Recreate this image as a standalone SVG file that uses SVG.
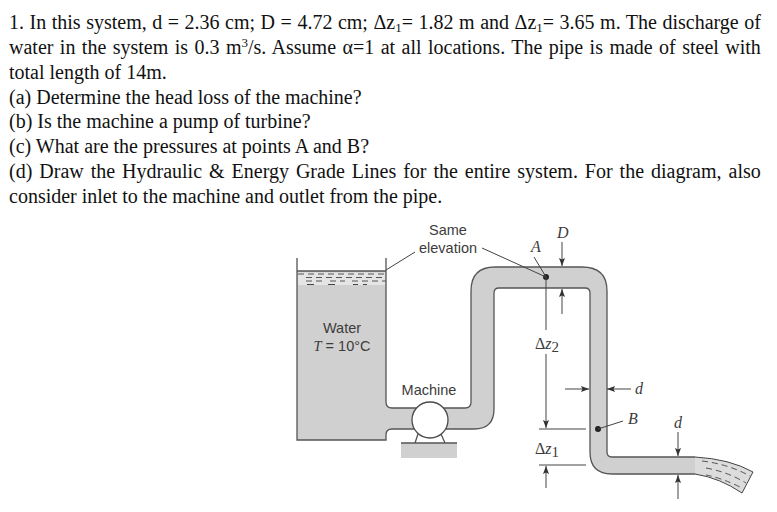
<svg xmlns="http://www.w3.org/2000/svg" width="777" height="512" viewBox="0 0 777 512">
<style>
.t{font-family:"Liberation Serif","Times New Roman",serif;font-size:20px;fill:#111}
.s{font-family:"Liberation Sans",Arial,sans-serif;font-size:14.5px;fill:#3c3c3c;text-anchor:middle}
.i{font-family:"Liberation Serif",serif;font-size:16px;font-style:italic;fill:#3c3c3c}
.z{font-family:"Liberation Serif",serif;font-size:16px;fill:#3c3c3c}
.w{fill:#d0d0d0}
.o{fill:none;stroke:#555;stroke-width:1.3}
.l{fill:none;stroke:#444;stroke-width:1}
.da{fill:none;stroke:#555;stroke-width:1;stroke-dasharray:6 4}
</style>
<defs>
<marker id="a" viewBox="0 0 8 6" refX="8" refY="3" markerWidth="8" markerHeight="6" orient="auto" markerUnits="userSpaceOnUse"><path d="M0 0L8 3L0 6L1.5 3z" fill="#333"/></marker>
</defs>
<g id="problem-text">
<text class="t" x="9" y="29" word-spacing="0.53">1. In this system, d = 2.36 cm; D = 4.72 cm; Δz<tspan font-size="13" dy="3">1</tspan><tspan dy="-3">= 1.82 m and Δz</tspan><tspan font-size="13" dy="3">1</tspan><tspan dy="-3">= 3.65 m. The discharge of</tspan></text>
<text class="t" x="9" y="54" word-spacing="1.43">water in the system is 0.3 m<tspan font-size="13" dy="-7">3</tspan><tspan dy="7">/s. Assume α=1 at all locations. The pipe is made of steel with</tspan></text>
<text class="t" x="9" y="79">total length of 14m.</text>
<text class="t" x="9" y="103.5">(a) Determine the head loss of the machine?</text>
<text class="t" x="9" y="128">(b) Is the machine a pump of turbine?</text>
<text class="t" x="9" y="153">(c) What are the pressures at points A and B?</text>
<text class="t" x="9" y="178" word-spacing="1.97">(d) Draw the Hydraulic &amp; Energy Grade Lines for the entire system. For the diagram, also</text>
<text class="t" x="9" y="203">consider inlet to the machine and outlet from the pipe.</text>
</g>
<g id="tank-and-pipe">
<path class="w" d="M297 271H386V402Q386 408 392 408H465Q471 408 471 402V291Q471 267 495 267H582Q607 267 607 291V452Q607 457 612 457H695V474H612Q590 474 590 452V293Q590 288 585 288H499Q494 288 494 293V409Q494 429 474 429H392Q386 429 386 435V440H297z"/>
<path class="o" d="M297 258V440H386V435Q386 429 392 429H474Q494 429 494 409V293Q494 288 499 288H585Q590 288 590 293V452Q590 474 612 474H695"/>
<path class="o" d="M386 258V402Q386 408 392 408H465Q471 408 471 402V291Q471 267 495 267H582Q607 267 607 291V452Q607 457 612 457H695"/>
<path d="M297 271H386" class="o"/>
<path fill="#fff" d="M298 272.5H385V285H298z" opacity=".45"/>
<path class="da" d="M298 274H386M306 277.5H386"/>
<path class="da" stroke-dasharray="5 3" d="M306 281H325M330 281H345M352 281H386"/>
<path class="l" d="M307 284.5H314M328 284.5H335M353 284.5H358M363 284.5H367"/>
</g>
<g id="jet">
<path d="M695 457Q730 459 753 472L742 493Q720 478 695 474z" fill="#dcdcdc"/>
<path class="l" stroke="#777" d="M695 457Q730 459 753 472L742 493Q720 478 695 474"/>
<path class="da" stroke-dasharray="5 4" d="M702 461Q728 464 750 476M706 468Q728 472 746 483M706 475Q722 478 742 488"/>
</g>
<g id="machine">
<rect class="w" x="401" y="443" width="56" height="15"/>
<path class="o" stroke-width="1.2" d="M401 443H457M418 434L415 443M441 434L445 443"/>
<circle cx="430" cy="420" r="18" fill="#fff" stroke="#4a4a4a" stroke-width="1.3"/>
<text class="s" x="429" y="395">Machine</text>
</g>
<g id="water-label">
<text class="s" x="342" y="333">Water</text>
<text class="s" x="342" y="351"><tspan font-family="Liberation Serif" font-style="italic">T</tspan> = 10°C</text>
</g>
<g id="same-elevation">
<text class="s" x="448" y="235">Same</text>
<text class="s" x="448" y="253">elevation</text>
</g>
<g id="point-a">
<circle cx="546" cy="277" r="3" fill="#222"/>
<text class="i" x="531" y="252">A</text>
</g>
<g id="point-b">
<circle cx="598" cy="429" r="3" fill="#222"/>
<text class="i" x="628" y="424">B</text>
</g>
<g id="labels">
<text class="i" x="557" y="238">D</text>
<text class="i" x="635" y="394">d</text>
<text class="i" x="674" y="428">d</text>
<text class="z" x="535" y="349">Δ<tspan font-style="italic">z</tspan><tspan font-size="15" dy="3">2</tspan></text>
<text class="z" x="535" y="454">Δ<tspan font-style="italic">z</tspan><tspan font-size="15" dy="3">1</tspan></text>
</g>
<g id="connectors">
<path class="l" d="M386 270L415 252M482 248L546 277M534 257L546 277M546 277V330M539 429H586M539 465H586M598 429L623 421"/>
<path class="l" marker-end="url(#a)" d="M546 354V428"/>
<path class="l" marker-end="url(#a)" d="M546 488V466"/>
<path class="l" marker-end="url(#a)" d="M562 242V266"/>
<path class="l" marker-end="url(#a)" d="M562 314V289"/>
<path class="l" marker-end="url(#a)" d="M565 389H589"/>
<path class="l" marker-end="url(#a)" d="M631 389H607"/>
<path class="l" marker-end="url(#a)" d="M678 432V456"/>
<path class="l" marker-end="url(#a)" d="M678 499V475"/>
</g>
</svg>
